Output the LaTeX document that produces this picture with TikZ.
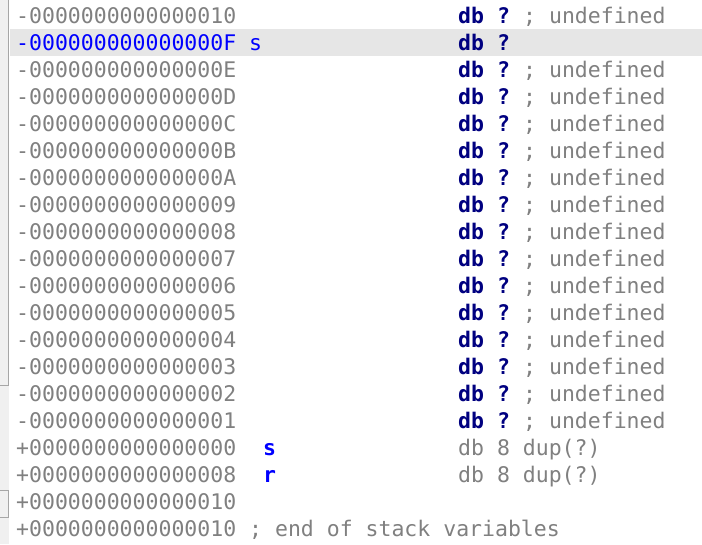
\documentclass[tikz,border=0pt]{standalone}
\usepackage{fontspec}
\setmonofont{DejaVu Sans Mono}
\definecolor{addr}{HTML}{808080}
\definecolor{navy}{HTML}{000080}
\definecolor{hl}{HTML}{E6E6E6}
\definecolor{side}{HTML}{F0F0F0}
\begin{document}
\begin{tikzpicture}[x=1pt,y=-1pt,
  txt/.style={anchor=base west,inner sep=0pt,font=\fontsize{21.5}{21.5}\selectfont\ttfamily},
  gr/.style={txt,text=addr},
  bl/.style={txt,text=blue},
  db/.style={txt,text=navy,font=\fontsize{21.5}{21.5}\selectfont\ttfamily\bfseries}]
\useasboundingbox (0,0) rectangle (702,544);
\fill[white] (0,0) rectangle (702,544);
\fill[hl] (10,29) rectangle (702,56);
\fill[side] (0,0) rectangle (9,544);
\draw[gray!70] (8.5,0) -- (8.5,385) -- (0,385);
\draw[gray!70] (0,490.5) -- (8.5,490.5) -- (8.5,517) -- (0,517);
\node[gr] (a0) at (16,23) {-0000000000000010};
\node[db] (d0) at (458,23) {db ?};
\node[gr] (u0) at (523,23) {; undefined};
\node[bl] (a1) at (16,50) {-000000000000000F s};
\node[db] (d1) at (458,50) {db ?};
\foreach \h [count=\i from 2] in {E,D,C,B,A,9,8,7,6,5,4,3,2,1}{
  \node[gr] (a\i) at (16,{23+27*\i}) {-000000000000000\h};
  \node[db] (d\i) at (458,{23+27*\i}) {db ?};
  \node[gr] (u\i) at (523,{23+27*\i}) {; undefined};
}
\node[gr] (p0) at (16,455) {+0000000000000000};
\node[bl,font=\fontsize{21.5}{21.5}\selectfont\ttfamily\bfseries] (s) at (263,455) {s};
\node[gr] (ds) at (458,455) {db 8 dup(?)};
\node[gr] (p1) at (16,482) {+0000000000000008};
\node[bl,font=\fontsize{21.5}{21.5}\selectfont\ttfamily\bfseries] (r) at (263,482) {r};
\node[gr] (dr) at (458,482) {db 8 dup(?)};
\node[gr] (p2) at (16,509) {+0000000000000010};
\node[gr] (p3) at (16,536) {+0000000000000010 ; end of stack variables};
\end{tikzpicture}
\end{document}
